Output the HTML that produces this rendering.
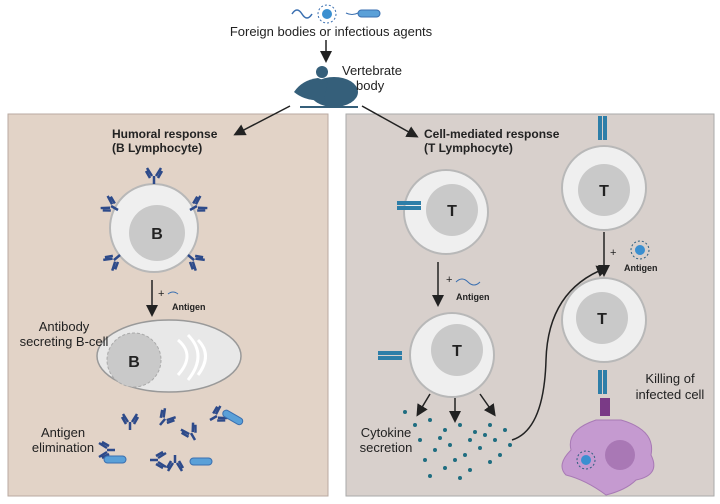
<!DOCTYPE html>
<html><head><style>body{margin:0;background:#fff}svg{display:block}text{font-family:"Liberation Sans",sans-serif;fill:#222}</style></head><body>
<svg width="720" height="504" viewBox="0 0 720 504" xmlns="http://www.w3.org/2000/svg">
<defs>
<marker id="a" markerWidth="8" markerHeight="8" refX="6" refY="4" orient="auto"><path d="M0,0L8,4L0,8z" fill="#222"/></marker>
<g id="ab" stroke="#2d4a8a" stroke-width="2.5" fill="none"><path d="M0,0V-8M-2,-8L-7,-16M2,-8L7,-16M-4,-6L-8,-13M4,-6L8,-13"/></g>
<g id="tcr"><rect x="-2" y="0" width="4" height="24" fill="#2d7ea8"/><rect x="3" y="0" width="4" height="24" fill="#2d7ea8"/></g>
</defs>
<rect x="8" y="114" width="320" height="382" fill="#e2d3c7" stroke="#b9aaa0"/>
<rect x="346" y="114" width="368" height="382" fill="#d8d0cc" stroke="#aaa"/>
<!-- top -->
<path d="M292,14q5,-8 10,0t10,0" stroke="#3a6fb0" fill="none" stroke-width="1.5"/>
<circle cx="327" cy="14" r="5" fill="#3a8fd0"/><circle cx="327" cy="14" r="9" fill="none" stroke="#3a6fb0" stroke-dasharray="2 2"/>
<rect x="358" y="10" width="22" height="7" rx="3.5" fill="#5aa0d8" stroke="#3a6fb0"/><path d="M346,13q6,3 12,0" stroke="#3a6fb0" fill="none"/>
<text x="331" y="36" font-size="13" text-anchor="middle">Foreign bodies or infectious agents</text>
<line x1="326" y1="40" x2="326" y2="60" stroke="#222" stroke-width="1.5" marker-end="url(#a)"/>
<g fill="#355f7a">
<ellipse cx="334" cy="92" rx="24" ry="15"/>
<path d="M294,92q8,-12 24,-14l10,4 -4,18q-18,2 -30,-8z"/>
<circle cx="322" cy="72" r="6"/>
</g>
<path d="M300,107h58" stroke="#355f7a" stroke-width="2"/>
<text x="342" y="75" font-size="13">Vertebrate</text><text x="356" y="90" font-size="13">body</text>
<line x1="290" y1="106" x2="236" y2="134" stroke="#222" stroke-width="1.5" marker-end="url(#a)"/>
<line x1="362" y1="106" x2="416" y2="136" stroke="#222" stroke-width="1.5" marker-end="url(#a)"/>
<!-- humoral -->
<text x="112" y="138" font-size="12" font-weight="bold">Humoral response</text>
<text x="112" y="152" font-size="12" font-weight="bold">(B Lymphocyte)</text>
<circle cx="154" cy="228" r="44" fill="#efefef" stroke="#b8b8b8" stroke-width="2"/>
<circle cx="157" cy="233" r="28" fill="#c9c9c9"/>
<text x="157" y="239" font-size="16" font-weight="bold" text-anchor="middle">B</text>
<use href="#ab" transform="translate(154,184)"/><use href="#ab" transform="translate(118,210) rotate(-60)"/><use href="#ab" transform="translate(190,210) rotate(60)"/><use href="#ab" transform="translate(120,255) rotate(-130)"/><use href="#ab" transform="translate(188,255) rotate(130)"/>
<line x1="152" y1="280" x2="152" y2="314" stroke="#222" stroke-width="1.5" marker-end="url(#a)"/>
<text x="158" y="297" font-size="11">+</text><path d="M168,294q5,-4 10,0" stroke="#3a6fb0" fill="none"/>
<text x="172" y="310" font-size="9" font-weight="bold">Antigen</text>
<ellipse cx="169" cy="356" rx="72" ry="36" fill="#e8e8e8" stroke="#999" stroke-width="1.5"/>
<circle cx="134" cy="360" r="27" fill="#c9c9c9" stroke="#aaa" stroke-dasharray="3 2"/>
<text x="134" y="367" font-size="16" font-weight="bold" text-anchor="middle">B</text>
<path d="M178,340q18,15 0,35M188,335q20,20 0,45M198,340q15,15 0,35" stroke="#fff" stroke-width="3" fill="none"/>
<text x="64" y="331" font-size="13" text-anchor="middle">Antibody</text><text x="64" y="346" font-size="13" text-anchor="middle">secreting B-cell</text>
<text x="63" y="437" font-size="13" text-anchor="middle">Antigen</text><text x="63" y="452" font-size="13" text-anchor="middle">elimination</text>
<use href="#ab" transform="translate(130,430)"/><use href="#ab" transform="translate(160,425) rotate(40)"/><use href="#ab" transform="translate(195,440) rotate(-30)"/><use href="#ab" transform="translate(150,460) rotate(90)"/><use href="#ab" transform="translate(175,455) rotate(180)"/><use href="#ab" transform="translate(210,420) rotate(60)"/><use href="#ab" transform="translate(115,450) rotate(-90)"/>
<rect x="104" y="456" width="22" height="7" rx="3.5" fill="#5aa0d8" stroke="#3a6fb0"/><rect x="222" y="414" width="22" height="7" rx="3.5" fill="#5aa0d8" stroke="#3a6fb0" transform="rotate(30 233 417)"/><rect x="190" y="458" width="22" height="7" rx="3.5" fill="#5aa0d8" stroke="#3a6fb0"/>
<!-- cell mediated -->
<text x="424" y="138" font-size="12" font-weight="bold">Cell-mediated response</text>
<text x="424" y="152" font-size="12" font-weight="bold">(T Lymphocyte)</text>
<circle cx="446" cy="212" r="42" fill="#efefef" stroke="#b8b8b8" stroke-width="2"/>
<circle cx="452" cy="210" r="26" fill="#c9c9c9"/><text x="452" y="216" font-size="16" font-weight="bold" text-anchor="middle">T</text>
<use href="#tcr" transform="translate(397,208) rotate(-90)"/>
<line x1="438" y1="262" x2="438" y2="304" stroke="#222" stroke-width="1.5" marker-end="url(#a)"/>
<text x="446" y="283" font-size="11">+</text><path d="M456,282q6,-6 12,0t12,0" stroke="#3a6fb0" fill="none"/>
<text x="456" y="300" font-size="9" font-weight="bold">Antigen</text>
<circle cx="452" cy="355" r="42" fill="#efefef" stroke="#b8b8b8" stroke-width="2"/>
<circle cx="457" cy="350" r="26" fill="#c9c9c9"/><text x="457" y="356" font-size="16" font-weight="bold" text-anchor="middle">T</text>
<use href="#tcr" transform="translate(378,358) rotate(-90)"/>
<line x1="430" y1="394" x2="418" y2="414" stroke="#222" stroke-width="1.5" marker-end="url(#a)"/>
<line x1="455" y1="398" x2="455" y2="420" stroke="#222" stroke-width="1.5" marker-end="url(#a)"/>
<line x1="480" y1="394" x2="494" y2="414" stroke="#222" stroke-width="1.5" marker-end="url(#a)"/>
<g fill="#1f6d80">
<circle cx="405" cy="412" r="2"/><circle cx="415" cy="425" r="2"/><circle cx="430" cy="420" r="2"/><circle cx="445" cy="430" r="2"/><circle cx="460" cy="425" r="2"/><circle cx="475" cy="432" r="2"/><circle cx="490" cy="425" r="2"/><circle cx="505" cy="430" r="2"/><circle cx="420" cy="440" r="2"/><circle cx="435" cy="450" r="2"/><circle cx="450" cy="445" r="2"/><circle cx="465" cy="455" r="2"/><circle cx="480" cy="448" r="2"/><circle cx="495" cy="440" r="2"/><circle cx="510" cy="445" r="2"/><circle cx="425" cy="460" r="2"/><circle cx="445" cy="468" r="2"/><circle cx="470" cy="470" r="2"/><circle cx="490" cy="462" r="2"/><circle cx="500" cy="455" r="2"/><circle cx="440" cy="438" r="2"/><circle cx="470" cy="440" r="2"/><circle cx="455" cy="460" r="2"/><circle cx="485" cy="435" r="2"/><circle cx="430" cy="476" r="2"/><circle cx="460" cy="478" r="2"/>
</g>
<text x="386" y="437" font-size="13" text-anchor="middle">Cytokine</text><text x="386" y="452" font-size="13" text-anchor="middle">secretion</text>
<path d="M512,440q32,-10 34,-80t60,-92" stroke="#222" stroke-width="1.5" fill="none" marker-end="url(#a)"/>
<circle cx="604" cy="188" r="42" fill="#efefef" stroke="#b8b8b8" stroke-width="2"/>
<circle cx="604" cy="190" r="26" fill="#c9c9c9"/><text x="604" y="196" font-size="16" font-weight="bold" text-anchor="middle">T</text>
<use href="#tcr" transform="translate(600,116)"/>
<line x1="604" y1="232" x2="604" y2="274" stroke="#222" stroke-width="1.5" marker-end="url(#a)"/>
<text x="610" y="256" font-size="11">+</text><circle cx="640" cy="250" r="5" fill="#3a8fd0"/><circle cx="640" cy="250" r="9" fill="none" stroke="#2d5f80" stroke-dasharray="2 2"/>
<text x="624" y="271" font-size="9" font-weight="bold">Antigen</text>
<circle cx="604" cy="320" r="42" fill="#efefef" stroke="#b8b8b8" stroke-width="2"/>
<circle cx="602" cy="318" r="26" fill="#c9c9c9"/><text x="602" y="324" font-size="16" font-weight="bold" text-anchor="middle">T</text>
<use href="#tcr" transform="translate(600,370)"/>
<rect x="600" y="398" width="10" height="18" fill="#7a3a86"/>
<path d="M596,420q-30,10 -25,30q-15,15 -5,25q20,5 40,20q20,-5 30,-15q25,-5 15,-25q5,-25 -30,-35z" fill="#c59ad0" stroke="#a87ab5"/>
<circle cx="620" cy="455" r="15" fill="#a978b5"/>
<circle cx="586" cy="460" r="5" fill="#3a8fd0"/><circle cx="586" cy="460" r="9" fill="none" stroke="#2d5f80" stroke-dasharray="2 2"/>
<text x="670" y="383" font-size="13" text-anchor="middle">Killing of</text><text x="670" y="399" font-size="13" text-anchor="middle">infected cell</text>
</svg>
</body></html>
